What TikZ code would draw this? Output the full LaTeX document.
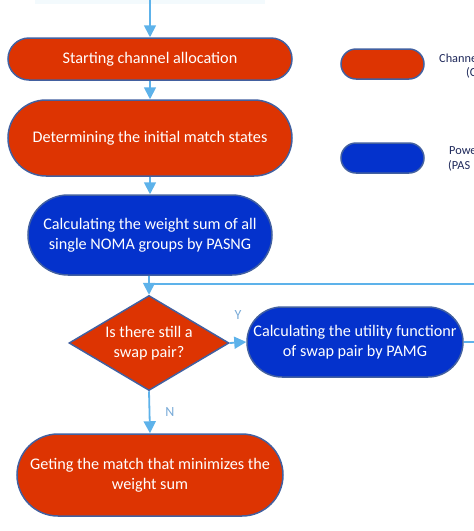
\documentclass[tikz,border=0pt]{standalone}
\usepackage{fontspec}
\setmainfont{Carlito}
\usetikzlibrary{shapes.geometric,shapes.misc,arrows.meta}
\definecolor{fred}{RGB}{221,52,2}
\definecolor{fblue}{RGB}{4,50,204}
\definecolor{edge}{RGB}{66,96,160}
\definecolor{conn}{RGB}{93,178,234}
\definecolor{lbl}{RGB}{120,170,215}
\definecolor{ltxt}{RGB}{30,40,90}
\definecolor{faint}{RGB}{243,250,253}
\tikzset{
  pill/.style={rounded rectangle, draw=edge, line width=1.5pt, text=white,
    align=center, inner sep=0pt, font=\fontsize{16.2}{20}\selectfont},
  redpill/.style={pill, fill=fred},
  bluepill/.style={pill, fill=fblue},
  decbox/.style={diamond, draw=edge, line width=1.5pt, fill=fred, text=white,
    align=center, inner sep=0pt, aspect=1.7, font=\fontsize{16.2}{20}\selectfont},
  conn/.style={draw=conn, line width=1.8pt},
  arr/.style={conn, -{Triangle[width=12pt,length=12pt]}},
  yn/.style={text=lbl, inner sep=0pt, font=\fontsize{14}{16}\selectfont},
  legtxt/.style={text=ltxt, anchor=west, inner sep=0pt, font=\fontsize{12.3}{14}\selectfont}
}
\begin{document}
\begin{tikzpicture}[x=1pt,y=-1pt]
\useasboundingbox (0,0) rectangle (474,531);
\clip (0,0) rectangle (474,531);
\fill[faint] (35,-20) rectangle (265,4);
\coordinate (topin) at (150,-10);
\node[redpill, minimum width=284pt, minimum height=42pt] (start) at (150,59) {Starting channel allocation};
\node[redpill, minimum width=284pt, minimum height=76pt] (determ) at (150,138) {Determining the initial match states};
\node[bluepill, minimum width=244pt, minimum height=80pt] (calc) at (150,235) {Calculating the weight sum of all\\single NOMA groups by PASNG};
\node[decbox, minimum width=160pt, minimum height=95pt] (dec) at (149,343) {Is there still a\\swap pair?};
\node[bluepill, minimum width=216pt, minimum height=70pt] (util) at (355,342) {Calculating the utility functionr\\of swap pair by PAMG};
\node[redpill, minimum width=266pt, minimum height=82pt] (getm) at (150,475) {Geting the match that minimizes the\\weight sum};
\node[redpill, minimum width=83pt, minimum height=30pt] (legred) at (382.5,64) {};
\node[bluepill, minimum width=83pt, minimum height=30pt] (legblue) at (382.5,158) {};
\node[legtxt] (lr1) at (439,58) {Channe};
\node[legtxt] (lr2) at (466,73) {(C};
\node[legtxt] (lb1) at (449,151) {Powe};
\node[legtxt] (lb2) at (448,166) {(PAS};
\coordinate (merge) at (150,284);
\coordinate (loopx) at (500,284);
\draw[arr] (topin) -- (start.north);
\draw[arr] (start.south) -- (determ.north);
\draw[arr] (determ.south) -- (calc.north);
\draw[arr] (calc.south -| dec.north) -- (dec.north);
\draw[arr] (dec.east) -- (util.west) node[yn, pos=0.5, above=22pt] (ylab) {Y};
\draw[arr] (dec.south) -- (getm.north) node[yn, pos=0.5, right=15pt] (nlab) {N};
\draw[conn] (util.east) -- (util.east -| loopx) -- (loopx) -- (merge);
\end{tikzpicture}
\end{document}
